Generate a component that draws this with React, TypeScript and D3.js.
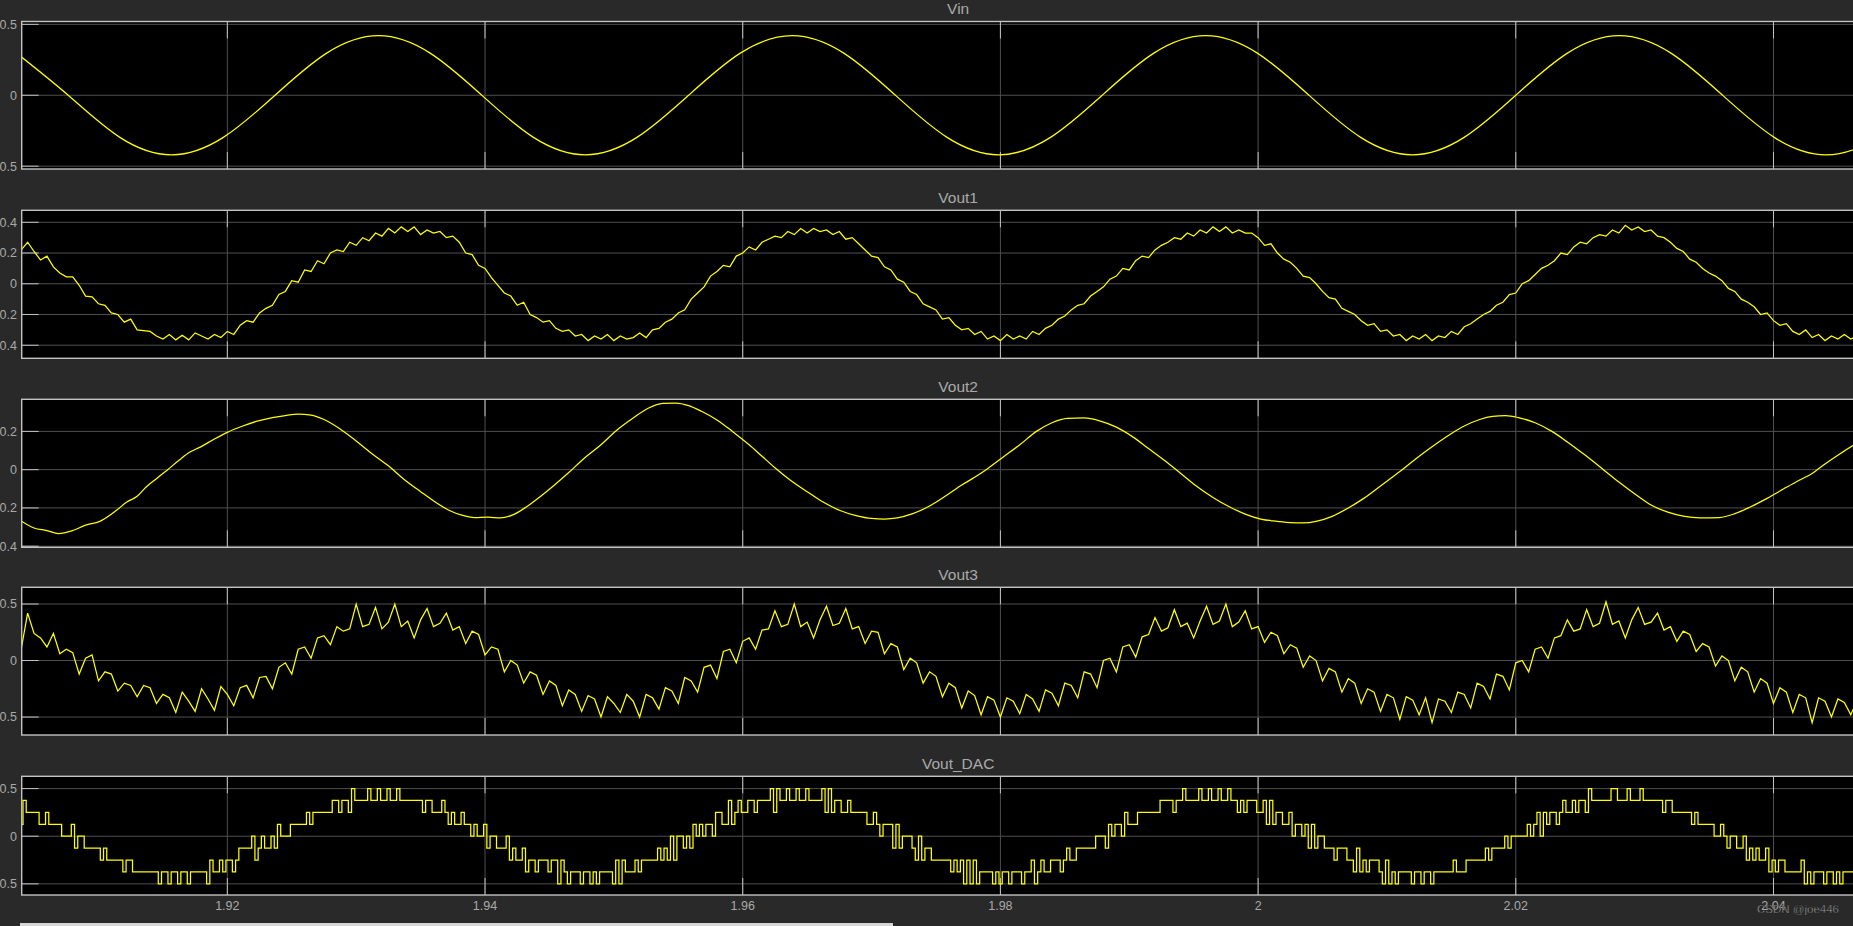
import React from "react";
import * as d3 from "d3";

// ---------- shared axis data ----------
const X_LIMITS = [1.90404, 2.0494];
const X_TICKS = [1.92, 1.94, 1.96, 1.98, 2.0, 2.02, 2.04];

const TITLES = ["Vin", "Vout1", "Vout2", "Vout3", "Vout_DAC"];

const VIN_YLIM = [-0.52, 0.52];
const VOUT1_YLIM = [-0.485, 0.478];
const VOUT2_YLIM = [-0.4057, 0.3677];
const VOUT3_YLIM = [-0.659, 0.648];
const DAC_YLIM = [-0.617, 0.629];

const VIN_YTICKS = [-0.5, 0, 0.5];
const VOUT1_YTICKS = [-0.4, -0.2, 0, 0.2, 0.4];
const VOUT2_YTICKS = [-0.4, -0.2, 0, 0.2];
const VOUT3_YTICKS = [-0.5, 0, 0.5];
const DAC_YTICKS = [-0.5, 0, 0.5];

// ---------- Vin (read at eighth-period points) ----------
const VIN_T = [1.90364, 1.90765, 1.91166, 1.91568, 1.91969, 1.9237, 1.92771, 1.93173, 1.93574, 1.93975,
  1.94376, 1.94778, 1.95179, 1.9558, 1.95981, 1.96383, 1.96784, 1.97185, 1.97586, 1.97988,
  1.98389, 1.9879, 1.99191, 1.99593, 1.99994, 2.00395, 2.00796, 2.01198, 2.01599, 2.02,
  2.02401, 2.02803, 2.03204, 2.03605, 2.04006, 2.04408, 2.04809, 2.0521];
const VIN_V = [0.297, 0, -0.297, -0.42, -0.297, 0, 0.297, 0.42, 0.297, 0,
  -0.297, -0.42, -0.297, 0, 0.297, 0.42, 0.297, 0, -0.297, -0.42,
  -0.297, 0, 0.297, 0.42, 0.297, 0, -0.297, -0.42, -0.297, 0,
  0.297, 0.42, 0.297, 0, -0.297, -0.42, -0.297, 0];

// ---------- Vout1 (sampled every 0.5 ms from 1.904 s) ----------
const VOUT1_T0 = 1.904;
const VOUT1_DT = 0.0005;
const VOUT1_V = [
  0.22, 0.27, 0.21, 0.155, 0.18, 0.11, 0.07, 0.045, 0.045, -0.01,
  -0.08, -0.085, -0.13, -0.14, -0.19, -0.2, -0.25, -0.23, -0.3, -0.305,
  -0.31, -0.34, -0.36, -0.33, -0.365, -0.335, -0.365, -0.32, -0.34, -0.36,
  -0.33, -0.35, -0.31, -0.33, -0.27, -0.24, -0.25, -0.19, -0.16, -0.14,
  -0.07, -0.05, 0.02, 0.01, 0.09, 0.08, 0.15, 0.13, 0.2, 0.22,
  0.21, 0.27, 0.25, 0.3, 0.28, 0.33, 0.31, 0.36, 0.33, 0.37,
  0.34, 0.37, 0.32, 0.35, 0.33, 0.34, 0.3, 0.31, 0.27, 0.2,
  0.19, 0.12, 0.1, 0.04, -0.01, -0.06, -0.08, -0.14, -0.12, -0.2,
  -0.22, -0.25, -0.24, -0.29, -0.31, -0.3, -0.34, -0.33, -0.37, -0.34,
  -0.36, -0.33, -0.37, -0.34, -0.36, -0.35, -0.32, -0.35, -0.3, -0.29,
  -0.25, -0.23, -0.19, -0.17, -0.1, -0.06, -0.02, 0.05, 0.08, 0.12,
  0.11, 0.18, 0.2, 0.24, 0.22, 0.27, 0.29, 0.31, 0.3, 0.34,
  0.32, 0.36, 0.33, 0.36, 0.34, 0.35, 0.32, 0.34, 0.29, 0.3,
  0.26, 0.22, 0.18, 0.17, 0.11, 0.09, 0.03, 0.01, -0.05, -0.07,
  -0.13, -0.15, -0.17, -0.23, -0.22, -0.27, -0.3, -0.29, -0.33, -0.31,
  -0.36, -0.34, -0.37, -0.33, -0.36, -0.34, -0.36, -0.31, -0.33, -0.29,
  -0.27, -0.23, -0.21, -0.17, -0.14, -0.13, -0.08, -0.05, -0.02, 0.03,
  0.05, 0.1, 0.09, 0.15, 0.18, 0.17, 0.22, 0.25, 0.27, 0.3,
  0.29, 0.33, 0.31, 0.35, 0.33, 0.37, 0.34, 0.37, 0.33, 0.35,
  0.33, 0.33, 0.3, 0.25, 0.26, 0.2, 0.16, 0.14, 0.1, 0.05,
  0.04, 0.0, -0.05, -0.09, -0.1, -0.16, -0.18, -0.2, -0.24, -0.27,
  -0.26, -0.31, -0.3, -0.34, -0.33, -0.37, -0.34, -0.36, -0.33, -0.37,
  -0.34, -0.35, -0.31, -0.33, -0.28, -0.26, -0.23, -0.2, -0.18, -0.14,
  -0.12, -0.07, -0.06, 0.0, 0.02, 0.06, 0.1, 0.12, 0.15, 0.2,
  0.19, 0.24, 0.27, 0.26, 0.3, 0.32, 0.31, 0.35, 0.33, 0.38,
  0.35, 0.37, 0.34, 0.35, 0.31, 0.3, 0.27, 0.23, 0.21, 0.16,
  0.14, 0.1, 0.07, 0.05, 0.02, -0.03, -0.05, -0.1, -0.12, -0.15,
  -0.2, -0.19, -0.24, -0.27, -0.26, -0.31, -0.33, -0.3, -0.35, -0.33,
  -0.37, -0.34, -0.36, -0.33, -0.36, -0.34,
];

// ---------- Vout2 ----------
const VOUT2_T = [1.904, 1.905, 1.906, 1.9069, 1.908, 1.909, 1.9101, 1.9114, 1.9122, 1.913, 1.9137, 1.9145, 1.9153, 1.9163, 1.9171, 1.9179,
  1.919, 1.92, 1.9212, 1.9224, 1.9235, 1.9245,
  1.9255, 1.9265, 1.9275, 1.9287, 1.93, 1.9312, 1.9325, 1.9337, 1.935, 1.9362, 1.9372, 1.9382, 1.9392,
  1.9402, 1.9412, 1.9422, 1.9432, 1.9442, 1.9453, 1.9465, 1.9477, 1.949, 1.9502, 1.9515, 1.9527, 1.9538, 1.9548,
  1.9558, 1.9568, 1.958, 1.9592, 1.9605, 1.9615, 1.9625, 1.9637, 1.965, 1.9662, 1.9675, 1.9688, 1.97, 1.971,
  1.972, 1.9732, 1.9745, 1.9758, 1.977, 1.978, 1.979, 1.9802, 1.9815, 1.9828, 1.984, 1.9852, 1.9865,
  1.9877, 1.989, 1.9903, 1.9915, 1.9928, 1.994, 1.9952, 1.9965, 1.9978, 1.999, 2.0002, 2.0015, 2.0025, 2.0035,
  2.0045, 2.0057, 2.007, 2.0082, 2.0095, 2.011, 2.0122, 2.0135, 2.0148, 2.016, 2.0172, 2.0182, 2.0192,
  2.0202, 2.0215, 2.0228, 2.024, 2.0253, 2.0268, 2.028, 2.0293, 2.0305, 2.0318, 2.033, 2.0343, 2.0358,
  2.037, 2.0382, 2.0395, 2.0408, 2.042, 2.043, 2.044, 2.0452, 2.0465];
const VOUT2_V = [-0.268, -0.305, -0.318, -0.334, -0.318, -0.29, -0.27, -0.212, -0.169, -0.139, -0.091, -0.047, -0.004, 0.052, 0.092, 0.118,
  0.16, 0.195, 0.228, 0.255, 0.272, 0.283,
  0.29, 0.285, 0.262, 0.215, 0.15, 0.085, 0.02, -0.05, -0.115, -0.172, -0.212, -0.238, -0.25,
  -0.248, -0.252, -0.235, -0.195, -0.145, -0.085, -0.015, 0.06, 0.13, 0.205, 0.27, 0.322, 0.346, 0.348,
  0.335, 0.305, 0.26, 0.2, 0.13, 0.07, 0.01, -0.055, -0.115, -0.168, -0.212, -0.24, -0.255, -0.258,
  -0.252, -0.23, -0.19, -0.135, -0.08, -0.04, 0.005, 0.065, 0.13, 0.2, 0.245, 0.268, 0.27,
  0.255, 0.222, 0.17, 0.11, 0.045, -0.02, -0.085, -0.145, -0.195, -0.232, -0.258, -0.27, -0.277, -0.278,
  -0.27, -0.245, -0.2, -0.15, -0.085, -0.01, 0.055, 0.12, 0.18, 0.228, 0.262, 0.278, 0.282,
  0.272, 0.245, 0.2, 0.145, 0.08, 0.0, -0.065, -0.13, -0.185, -0.222, -0.243, -0.252, -0.25,
  -0.23, -0.195, -0.15, -0.1, -0.055, -0.02, 0.03, 0.085, 0.14];

// ---------- Vout3 (sampled every 0.5 ms from 1.904 s) ----------
const VOUT3_T0 = 1.904;
const VOUT3_DT = 0.0005;
const VOUT3_V = [
  0.1, 0.42, 0.24, 0.2, 0.12, 0.24, 0.06, 0.1, 0.07, -0.12,
  0.02, 0.05, -0.18, -0.1, -0.12, -0.27, -0.2, -0.22, -0.32, -0.22,
  -0.24, -0.38, -0.3, -0.33, -0.46, -0.28, -0.36, -0.45, -0.25, -0.34,
  -0.44, -0.23, -0.3, -0.4, -0.24, -0.22, -0.33, -0.15, -0.14, -0.25,
  -0.06, -0.02, -0.12, 0.1, 0.12, 0.02, 0.2, 0.22, 0.14, 0.3,
  0.26, 0.28, 0.5, 0.3, 0.32, 0.47, 0.28, 0.34, 0.5, 0.3,
  0.35, 0.2, 0.36, 0.46, 0.3, 0.33, 0.42, 0.27, 0.3, 0.15,
  0.26, 0.23, 0.05, 0.12, 0.1, -0.1, 0.0, -0.04, -0.2, -0.1,
  -0.13, -0.3, -0.18, -0.22, -0.4, -0.26, -0.3, -0.45, -0.31, -0.34,
  -0.5, -0.32, -0.38, -0.46, -0.3, -0.36, -0.5, -0.3, -0.33, -0.43,
  -0.24, -0.27, -0.38, -0.15, -0.18, -0.28, -0.06, -0.04, -0.16, 0.08,
  0.1, -0.02, 0.17, 0.2, 0.1, 0.27, 0.28, 0.44, 0.3, 0.32,
  0.5, 0.3, 0.34, 0.2, 0.36, 0.48, 0.31, 0.33, 0.46, 0.28,
  0.3, 0.15, 0.26, 0.25, 0.06, 0.15, 0.12, -0.08, 0.02, -0.02,
  -0.2, -0.1, -0.14, -0.32, -0.2, -0.24, -0.42, -0.27, -0.31, -0.48,
  -0.32, -0.35, -0.5, -0.33, -0.36, -0.47, -0.3, -0.34, -0.45, -0.26,
  -0.29, -0.4, -0.2, -0.22, -0.33, -0.1, -0.12, -0.24, 0.0, 0.02,
  -0.1, 0.12, 0.14, 0.03, 0.21, 0.23, 0.38, 0.26, 0.29, 0.45,
  0.3, 0.33, 0.2, 0.35, 0.48, 0.32, 0.35, 0.5, 0.3, 0.34,
  0.44, 0.28, 0.3, 0.16, 0.25, 0.22, 0.06, 0.14, 0.11, -0.06,
  0.04, 0.0, -0.18, -0.07, -0.1, -0.28, -0.16, -0.2, -0.38, -0.25,
  -0.28, -0.45, -0.3, -0.33, -0.52, -0.32, -0.35, -0.48, -0.33, -0.55,
  -0.34, -0.36, -0.46, -0.28, -0.3, -0.42, -0.2, -0.23, -0.34, -0.12,
  -0.14, -0.26, -0.02, 0.0, -0.1, 0.1, 0.12, 0.02, 0.2, 0.22,
  0.36, 0.26, 0.28, 0.45, 0.3, 0.33, 0.52, 0.32, 0.35, 0.2,
  0.36, 0.47, 0.32, 0.34, 0.42, 0.27, 0.3, 0.17, 0.26, 0.23,
  0.08, 0.15, 0.12, -0.05, 0.04, 0.0, -0.18, -0.06, -0.1, -0.28,
  -0.16, -0.2, -0.38, -0.24, -0.28, -0.46, -0.3, -0.33, -0.55, -0.33,
  -0.36, -0.5, -0.34, -0.37, -0.48, -0.35,
];

// ---------- Vout_DAC: [sample number, level] at each change; 0.25 ms samples ----------
const DAC_T0 = 1.904141;
const DAC_TS = 0.00025;
const DAC_END = 572;
const DAC_STEPS = [
  [-1, 0.125], [0, 0.375], [1, 0.25], [5, 0.125], [7, 0.25], [8, 0.125], [12, 0], [15, 0.125], [16, -0.125], [17, 0],
  [19, -0.125], [24, -0.25], [25, -0.125], [26, -0.25], [31, -0.375], [32, -0.25], [34, -0.375], [42, -0.5], [43, -0.375], [45, -0.5],
  [46, -0.375], [48, -0.5], [49, -0.375], [51, -0.5], [52, -0.375], [57, -0.5], [58, -0.25], [59, -0.375], [61, -0.25], [62, -0.375],
  [63, -0.25], [65, -0.375], [66, -0.25], [67, -0.125], [71, 0], [72, -0.25], [73, -0.125], [74, 0], [75, -0.125], [77, 0],
  [78, -0.125], [79, 0.125], [80, 0], [83, 0.125], [88, 0.25], [89, 0.125], [90, 0.25], [96, 0.375], [98, 0.25], [99, 0.375],
  [101, 0.25], [102, 0.5], [103, 0.375], [107, 0.5], [108, 0.375], [110, 0.5], [111, 0.375], [113, 0.5], [114, 0.375], [116, 0.5],
  [117, 0.375], [124, 0.25], [125, 0.375], [127, 0.25], [130, 0.375], [131, 0.25], [132, 0.125], [133, 0.25], [134, 0.125], [136, 0.25],
  [137, 0.125], [139, 0], [140, 0.125], [141, 0], [143, 0.125], [144, -0.125], [145, 0], [147, -0.125], [150, 0], [151, -0.25],
  [152, -0.125], [153, -0.25], [155, -0.125], [156, -0.375], [157, -0.25], [159, -0.375], [160, -0.25], [163, -0.375], [164, -0.25], [166, -0.5],
  [167, -0.25], [168, -0.375], [169, -0.5], [170, -0.375], [173, -0.5], [174, -0.375], [176, -0.5], [177, -0.375], [178, -0.5], [179, -0.375],
  [183, -0.5], [184, -0.25], [185, -0.5], [186, -0.25], [187, -0.375], [190, -0.25], [191, -0.375], [192, -0.25], [197, -0.125], [198, -0.25],
  [199, -0.125], [200, -0.25], [201, 0], [202, -0.25], [203, 0], [205, -0.125], [206, 0], [207, -0.125], [208, 0.125], [209, 0],
  [210, 0.125], [211, 0], [212, 0.125], [214, 0], [215, 0.25], [217, 0.125], [219, 0.375], [220, 0.125], [221, 0.25], [222, 0.375],
  [223, 0.25], [225, 0.375], [227, 0.25], [228, 0.375], [232, 0.5], [233, 0.25], [234, 0.5], [235, 0.375], [237, 0.5], [238, 0.375],
  [240, 0.5], [241, 0.375], [243, 0.5], [244, 0.375], [248, 0.5], [249, 0.25], [250, 0.5], [251, 0.25], [252, 0.375], [254, 0.25],
  [256, 0.375], [257, 0.25], [262, 0.125], [264, 0.25], [265, 0.125], [266, 0], [267, 0.125], [270, -0.125], [271, 0.125], [272, -0.125],
  [273, 0], [276, -0.125], [277, -0.25], [278, 0], [279, -0.25], [280, -0.125], [282, -0.25], [288, -0.375], [289, -0.25], [290, -0.375],
  [291, -0.25], [292, -0.5], [293, -0.25], [294, -0.5], [295, -0.25], [296, -0.5], [297, -0.375], [301, -0.5], [302, -0.375], [303, -0.5],
  [304, -0.375], [306, -0.5], [307, -0.375], [310, -0.5], [311, -0.375], [313, -0.25], [314, -0.5], [315, -0.375], [316, -0.25], [317, -0.375],
  [319, -0.25], [322, -0.375], [323, -0.25], [324, -0.125], [325, -0.25], [327, -0.125], [333, 0], [336, -0.125], [337, 0.125], [338, 0],
  [339, 0.125], [341, 0], [342, 0.25], [343, 0.125], [346, 0.25], [353, 0.375], [357, 0.25], [358, 0.375], [360, 0.5], [361, 0.375],
  [365, 0.5], [366, 0.375], [368, 0.5], [369, 0.375], [371, 0.5], [372, 0.375], [374, 0.5], [375, 0.375], [377, 0.25], [378, 0.375],
  [379, 0.25], [380, 0.375], [383, 0.25], [385, 0.375], [386, 0.125], [387, 0.375], [388, 0.125], [389, 0.25], [391, 0.125], [393, 0.25],
  [394, 0], [395, 0.125], [397, 0], [398, 0.125], [399, -0.125], [400, 0.125], [401, -0.125], [402, 0], [404, -0.125], [407, -0.25],
  [408, -0.125], [411, -0.25], [413, -0.375], [414, -0.125], [415, -0.375], [416, -0.25], [417, -0.375], [418, -0.25], [421, -0.375], [422, -0.5],
  [423, -0.25], [424, -0.5], [425, -0.375], [426, -0.5], [427, -0.375], [431, -0.5], [432, -0.375], [434, -0.5], [435, -0.375], [437, -0.5],
  [438, -0.375], [444, -0.25], [445, -0.375], [448, -0.25], [454, -0.125], [455, -0.25], [456, -0.125], [460, 0], [461, -0.125], [462, 0],
  [467, 0.125], [468, 0], [469, 0.125], [470, 0.25], [471, 0], [472, 0.25], [473, 0.125], [474, 0.25], [476, 0.125], [477, 0.25],
  [478, 0.375], [479, 0.25], [481, 0.375], [482, 0.25], [483, 0.375], [485, 0.25], [486, 0.5], [487, 0.375], [493, 0.5], [495, 0.375],
  [498, 0.5], [499, 0.375], [502, 0.5], [503, 0.375], [509, 0.25], [510, 0.375], [512, 0.25], [518, 0.125], [519, 0.25], [520, 0.125],
  [525, 0], [527, 0.125], [528, 0], [529, -0.125], [530, 0], [532, -0.125], [534, 0], [535, -0.25], [536, -0.125], [537, -0.25],
  [538, -0.125], [539, -0.25], [541, -0.125], [542, -0.375], [543, -0.25], [544, -0.375], [545, -0.25], [547, -0.375], [552, -0.25], [553, -0.5],
  [554, -0.375], [555, -0.5], [556, -0.375], [559, -0.5], [560, -0.375], [562, -0.5], [563, -0.375], [564, -0.5], [565, -0.375],
];

// ---------- styling / layout ----------
const W = 1853;
const H = 926;
const BG = "#292929";
const AX_BG = "#000000";
const GRID = "#4f4f4f";
const AXIS = "#c2c2c2";
const TEXT = "#a9a9a9";
const LINE = "#ffff00";
const FONT = "'Liberation Sans', Arial, Helvetica, sans-serif";
const AX_LEFT = 21.7;
const AX_RIGHT = 1894.6;
const TICK_LEN = 17;
const PANEL_BOXES = [
  { top: 21.5, bottom: 169 },
  { top: 210.3, bottom: 358.3 },
  { top: 399.3, bottom: 547.3 },
  { top: 587.3, bottom: 735 },
  { top: 776.3, bottom: 895 },
];

type Pt = [number, number];

export default function App() {
  const x = d3.scaleLinear().domain(X_LIMITS).range([AX_LEFT, AX_RIGHT]);
  const fmtX = d3.format("~g");

  const vin: Pt[] = VIN_T.map((t, i) => [t, VIN_V[i]]);
  const vout1: Pt[] = VOUT1_V.map((v, i) => [VOUT1_T0 + i * VOUT1_DT, v]);
  const vout2: Pt[] = VOUT2_T.map((t, i) => [t, VOUT2_V[i]]);
  const vout3: Pt[] = VOUT3_V.map((v, i) => [VOUT3_T0 + i * VOUT3_DT, v]);
  const dac: Pt[] = DAC_STEPS.map(([n, v]) => [DAC_T0 + n * DAC_TS, v] as Pt);
  dac.push([DAC_T0 + DAC_END * DAC_TS, DAC_STEPS[DAC_STEPS.length - 1][1]]);

  const series = [
    { data: vin, ylim: VIN_YLIM, ticks: VIN_YTICKS, curve: d3.curveNatural },
    { data: vout1, ylim: VOUT1_YLIM, ticks: VOUT1_YTICKS, curve: d3.curveLinear },
    { data: vout2, ylim: VOUT2_YLIM, ticks: VOUT2_YTICKS, curve: d3.curveMonotoneX },
    { data: vout3, ylim: VOUT3_YLIM, ticks: VOUT3_YTICKS, curve: d3.curveLinear },
    { data: dac, ylim: DAC_YLIM, ticks: DAC_YTICKS, curve: d3.curveStepAfter },
  ];

  const cx = (AX_LEFT + AX_RIGHT) / 2;

  return (
    <div style={{ position: "absolute", left: 0, top: 0, width: W, height: H, background: BG, overflow: "hidden" }}>
      <svg width={W} height={H} style={{ display: "block" }} fontFamily={FONT}>
        <defs>
          {PANEL_BOXES.map((b, i) => (
            <clipPath id={`clip-${i}`} key={i}>
              <rect x={AX_LEFT} y={b.top} width={AX_RIGHT - AX_LEFT} height={b.bottom - b.top} />
            </clipPath>
          ))}
        </defs>
        {series.map((s, i) => {
          const b = PANEL_BOXES[i];
          const y = d3.scaleLinear().domain(s.ylim).range([b.bottom, b.top]);
          const line = d3
            .line<Pt>()
            .x((d) => x(d[0]))
            .y((d) => y(d[1]))
            .curve(s.curve);
          return (
            <g key={i}>
              <rect x={AX_LEFT} y={b.top} width={AX_RIGHT - AX_LEFT} height={b.bottom - b.top} fill={AX_BG} />
              {s.ticks.map((t) => (
                <line key={`gy${t}`} x1={AX_LEFT} x2={AX_RIGHT} y1={y(t)} y2={y(t)} stroke={GRID} strokeWidth={1} />
              ))}
              {X_TICKS.map((t) => (
                <line key={`gx${t}`} x1={x(t)} x2={x(t)} y1={b.top} y2={b.bottom} stroke={GRID} strokeWidth={1} />
              ))}
              {s.ticks.map((t) => (
                <line key={`ty${t}`} x1={AX_LEFT} x2={AX_LEFT + TICK_LEN} y1={y(t)} y2={y(t)} stroke={AXIS} strokeWidth={1} />
              ))}
              {X_TICKS.map((t) => (
                <g key={`tx${t}`}>
                  <line x1={x(t)} x2={x(t)} y1={b.top} y2={b.top + TICK_LEN} stroke={AXIS} strokeWidth={1} />
                  <line x1={x(t)} x2={x(t)} y1={b.bottom - TICK_LEN} y2={b.bottom} stroke={AXIS} strokeWidth={1} />
                </g>
              ))}
              <path
                d={line(s.data) || ""}
                fill="none"
                stroke={LINE}
                strokeWidth={1.25}
                strokeLinejoin="miter"
                clipPath={`url(#clip-${i})`}
              />
              <rect
                x={AX_LEFT}
                y={b.top}
                width={AX_RIGHT - AX_LEFT}
                height={b.bottom - b.top}
                fill="none"
                stroke={AXIS}
                strokeWidth={1.4}
              />
              {s.ticks.map((t) => (
                <text key={`ly${t}`} x={17} y={y(t)} dy="0.35em" textAnchor="end" fontSize={12.5} fill={TEXT}>
                  {String(t)}
                </text>
              ))}
              <text x={cx} y={b.top - 12.5} dy="0.35em" textAnchor="middle" fontSize={15.5} fill={TEXT}>
                {TITLES[i]}
              </text>
            </g>
          );
        })}
        {X_TICKS.map((t) => (
          <text key={`lx${t}`} x={x(t)} y={905.7} dy="0.35em" textAnchor="middle" fontSize={12.5} fill={TEXT}>
            {fmtX(t)}
          </text>
        ))}
        <rect x={20} y={923} width={873} height={3} fill="#d6d6d6" />
        <text x={1757} y={908.7} dy="0.35em" fontSize={11.5} fill="#cfcfcf" fillOpacity={0.85} stroke="#1a1a1a" strokeWidth={0.4}>
          CSDN @joe446
        </text>
      </svg>
    </div>
  );
}
